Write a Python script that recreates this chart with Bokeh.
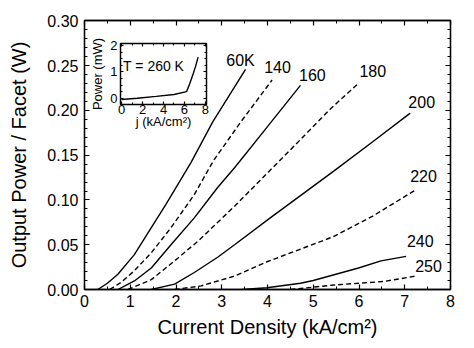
from bokeh.plotting import figure
from bokeh.models import (LinearAxis, SingleIntervalTicker, PrintfTickFormatter,
                          CustomLabelingPolicy, CustomJSTickFormatter)
from bokeh.core.properties import value
from bokeh.embed import file_html
from bokeh.resources import INLINE

FONT = "Liberation Sans"

# ---------------- data ----------------
# current density (kA/cm^2) and output power per facet (W) for each temperature
x_60 = [0.29, 0.50, 0.73, 1.09, 1.46, 1.78, 2.33, 2.80, 3.52]
y_60 = [0.000, 0.007, 0.017, 0.039, 0.069, 0.095, 0.142, 0.187, 0.246]

x_140 = [0.55, 0.80, 1.09, 1.46, 1.89, 2.40, 2.82, 3.40, 4.10]
y_140 = [0.000, 0.008, 0.021, 0.041, 0.069, 0.106, 0.144, 0.186, 0.234]

x_160 = [0.73, 1.09, 1.46, 1.89, 2.40, 2.91, 3.28, 4.00, 4.72]
y_160 = [0.000, 0.0095, 0.024, 0.050, 0.080, 0.114, 0.136, 0.182, 0.228]

x_180 = [0.95, 1.46, 1.97, 2.48, 3.28, 4.50, 5.38, 5.96]
y_180 = [0.000, 0.011, 0.032, 0.054, 0.093, 0.156, 0.202, 0.229]

x_200 = [1.46, 1.97, 2.40, 2.91, 3.28, 4.06, 5.44, 6.30, 7.12]
y_200 = [0.000, 0.006, 0.019, 0.036, 0.050, 0.080, 0.132, 0.165, 0.197]

x_220 = [1.97, 2.55, 3.28, 3.99, 5.44, 6.30, 7.23]
y_220 = [0.000, 0.004, 0.015, 0.031, 0.059, 0.082, 0.111]

x_240 = [3.45, 3.99, 4.72, 5.00, 5.99, 6.48, 7.03]
y_240 = [0.000, 0.002, 0.007, 0.010, 0.024, 0.032, 0.037]

x_250 = [4.50, 5.45, 6.55, 7.24]
y_250 = [0.000, 0.005, 0.009, 0.015]

series_names = ["60K", "140", "160", "180", "200", "220", "240", "250"]
series_x = [x_60, x_140, x_160, x_180, x_200, x_220, x_240, x_250]
series_y = [y_60, y_140, y_160, y_180, y_200, y_220, y_240, y_250]
series_dashed = [False, True, False, True, False, True, False, True]

# label anchors (data coords) for the temperature annotations
label_x = [3.41, 4.22, 4.98, 6.30, 7.37, 7.41, 7.34, 7.52]
label_y = [0.256, 0.248, 0.240, 0.244, 0.209, 0.127, 0.054, 0.026]

# inset: T = 260 K, power (mW) vs current density j (kA/cm^2)
inset_x = [0.0, 1.5, 3.3, 5.0, 6.2, 6.5, 6.83, 7.05, 7.3]
inset_y = [-0.05, 0.00, 0.07, 0.14, 0.25, 0.55, 0.93, 1.20, 1.56]
inset_label = "T = 260 K"


def style_axis(ax, tick_size, label_size, major_in, minor_in, show_labels=True,
               label_standoff=6, axis_standoff=10):
    ax.axis_line_color = "black"
    ax.axis_line_width = 1.3
    ax.major_tick_line_color = "black"
    ax.minor_tick_line_color = "black"
    ax.major_tick_line_width = 1.2
    ax.minor_tick_line_width = 1.0
    ax.major_tick_in = major_in
    ax.major_tick_out = 0
    ax.minor_tick_in = minor_in
    ax.minor_tick_out = 0
    ax.major_label_text_font = FONT
    ax.major_label_text_color = "black"
    ax.major_label_text_font_size = tick_size
    ax.major_label_standoff = label_standoff
    if not show_labels:
        ax.formatter = CustomJSTickFormatter(code="return ''")
        ax.major_label_policy = CustomLabelingPolicy(code="return []")
        ax.major_label_standoff = 0
    ax.axis_label_text_font = FONT
    ax.axis_label_text_font_style = "normal"
    ax.axis_label_text_color = "black"
    ax.axis_label_text_font_size = label_size
    ax.axis_label_standoff = axis_standoff


# ---------------- main figure ----------------
p = figure(width=474, height=348, x_range=(0, 8), y_range=(0, 0.3005),
           output_backend="svg", toolbar_location=None,
           min_border_left=84, min_border_right=24,
           min_border_top=20, min_border_bottom=59)
p.xgrid.visible = False
p.ygrid.visible = False
p.outline_line_color = "black"
p.outline_line_width = 1.3
p.background_fill_color = "white"
p.border_fill_color = "white"

p.xaxis.ticker = SingleIntervalTicker(interval=1, num_minor_ticks=2)
p.yaxis.ticker = SingleIntervalTicker(interval=0.05, num_minor_ticks=5)
p.yaxis.formatter = PrintfTickFormatter(format="%.2f")
p.xaxis.axis_label = "Current Density (kA/cm²)"
p.yaxis.axis_label = "Output Power / Facet (W)"
style_axis(p.xaxis[0], "16px", "20px", 5, 3, label_standoff=5, axis_standoff=6)
style_axis(p.yaxis[0], "16px", "20px", 5, 3, label_standoff=6, axis_standoff=14)

top_ax = LinearAxis(ticker=SingleIntervalTicker(interval=1, num_minor_ticks=2))
right_ax = LinearAxis(ticker=SingleIntervalTicker(interval=0.05, num_minor_ticks=5))
style_axis(top_ax, "16px", "20px", 5, 3, show_labels=False)
style_axis(right_ax, "16px", "20px", 5, 3, show_labels=False)
p.add_layout(top_ax, "above")
p.add_layout(right_ax, "right")

for xs, ys, dashed in zip(series_x, series_y, series_dashed):
    p.line(xs, ys, line_color="black", line_width=1.4,
           line_dash="5 3" if dashed else "solid")

p.text(x=label_x, y=label_y, text=series_names, text_font=value(FONT),
       text_font_size="16px", text_color="black",
       text_align="center", text_baseline="middle")

# ---------------- inset figure ----------------
q = figure(frame_width=86, frame_height=61,
           x_range=(-0.1, 8.1), y_range=(-0.24, 2.08),
           output_backend="svg", toolbar_location=None,
           min_border_left=30, min_border_right=8,
           min_border_top=9, min_border_bottom=30,
           styles={"position": "absolute", "left": "87px", "top": "34px",
                   "z-index": "5"})
q.xgrid.visible = False
q.ygrid.visible = False
q.outline_line_color = "black"
q.outline_line_width = 1.2
q.background_fill_color = "white"
q.border_fill_alpha = 0
q.xaxis.ticker = SingleIntervalTicker(interval=2, num_minor_ticks=2)
q.yaxis.ticker = SingleIntervalTicker(interval=1, num_minor_ticks=4)
q.xaxis.axis_label = "j (kA/cm²)"
q.yaxis.axis_label = "Power (mW)"
style_axis(q.xaxis[0], "13px", "13px", 3, 2, label_standoff=0, axis_standoff=-3)
style_axis(q.yaxis[0], "13px", "13px", 3, 2, label_standoff=3, axis_standoff=2)
q_top = LinearAxis(ticker=SingleIntervalTicker(interval=2, num_minor_ticks=2))
q_right = LinearAxis(ticker=SingleIntervalTicker(interval=1, num_minor_ticks=4))
style_axis(q_top, "13px", "13px", 3, 2, show_labels=False)
style_axis(q_right, "13px", "13px", 3, 2, show_labels=False)
q.add_layout(q_top, "above")
q.add_layout(q_right, "right")

q.line(inset_x, inset_y, line_color="black", line_width=1.4)
q.text(x=[0.15], y=[1.24], text=[inset_label], text_font=value(FONT),
       text_font_size="14px", text_color="black",
       text_align="left", text_baseline="middle")

open("out.html", "w").write(file_html([p, q], INLINE))
